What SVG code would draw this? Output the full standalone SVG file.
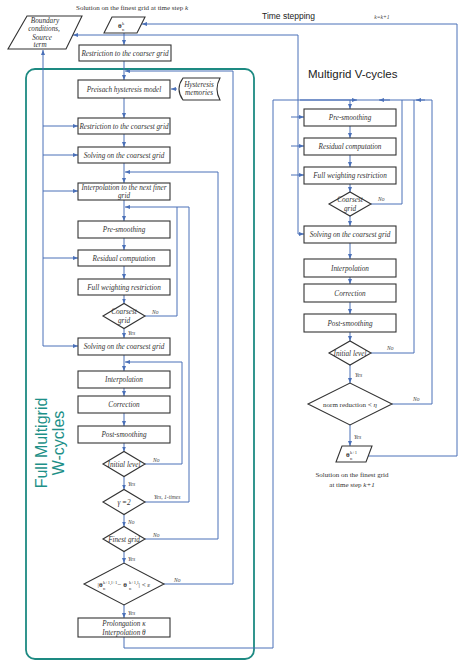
<svg xmlns="http://www.w3.org/2000/svg" width="474" height="667" viewBox="0 0 474 667">
<style>
.b{fill:#fff;stroke:#333;stroke-width:1.1}
.t{font-family:"Liberation Serif",serif;font-style:italic;font-size:7.2px;fill:#333;text-anchor:middle}
.m{font-family:"Liberation Serif",serif;font-size:7px;fill:#333;text-anchor:middle}
.q{font-family:"Liberation Serif",serif;font-size:7px;fill:#333}
.p{font-family:"Liberation Serif",serif;font-size:4.5px;fill:#333}
.c{fill:none;stroke:#4a70b8;stroke-width:1}
.a{marker-end:url(#ah)}
.l{font-family:"Liberation Serif",serif;font-style:italic;font-size:5.6px;fill:#444}
.s{font-family:"Liberation Sans",Arial,sans-serif;fill:#222}
.g{font-family:"Liberation Sans",Arial,sans-serif;font-size:16px;fill:#1d9088;text-anchor:middle}
</style>
<defs>
<marker id="ah" viewBox="0 0 10 10" refX="10" refY="5" markerWidth="5" markerHeight="5" orient="auto" markerUnits="userSpaceOnUse"><path d="M0,1 L10,5 L0,9 z" fill="#4a70b8"/></marker>
</defs>
<rect width="474" height="667" fill="#fff"/>

<!-- frame -->
<rect id="fmg-frame" x="26" y="69" width="228" height="590" rx="9" fill="none" stroke="#1d8a82" stroke-width="1.8"/>
<text class="g" transform="translate(47,443) rotate(-90)">Full Multigrid</text>
<text class="g" transform="translate(64,443) rotate(-90)">W-cycles</text>

<text class="m" x="132" y="10">Solution on the finest grid at time step  <tspan font-style="italic">k</tspan></text>
<text class="s" x="262" y="19" font-size="8.5">Time stepping</text>
<text class="l" x="382" y="19" text-anchor="middle" font-size="5">k=k+1</text>
<text class="s" x="308" y="78" font-size="11.5">Multigrid V-cycles</text>

<g id="connectors">
<!-- time stepping loop -->
<path class="c a" d="M368,456 H457 V24 H142"/>
<!-- boundary line -->
<path class="c a" d="M298,35 H73"/>
<path class="c a" d="M298,35 V234 H304"/>
<path class="c a" d="M291,117 H304"/>
<path class="c a" d="M291,146 H304"/>
<path class="c a" d="M291,175 H304"/>
<!-- left rail -->
<path class="c a" d="M43,346 V50"/>
<path class="c a" d="M43,126 H78"/>
<path class="c a" d="M43,155 H78"/>
<path class="c a" d="M43,191 H78"/>
<path class="c a" d="M43,258 H78"/>
<path class="c a" d="M43,346 H78"/>
<!-- left main flow -->
<path class="c a" d="M124,33 V45"/>
<path class="c a" d="M124,61 V80"/>
<path class="c a" d="M124,98 V118"/>
<path class="c a" d="M124,134 V147"/>
<path class="c a" d="M124,163 V183"/>
<path class="c a" d="M124,200 V221"/>
<path class="c a" d="M124,238 V250"/>
<path class="c a" d="M124,266 V279"/>
<path class="c a" d="M124,295 V303.5"/>
<path class="c a" d="M124,328.5 V338"/>
<path class="c a" d="M124,355 V371"/>
<path class="c a" d="M124,388 V396"/>
<path class="c a" d="M124,413 V426"/>
<path class="c a" d="M124,443 V451.5"/>
<path class="c a" d="M124,476.5 V489.5"/>
<path class="c a" d="M124,514.5 V526.5"/>
<path class="c a" d="M124,551.5 V563"/>
<path class="c a" d="M124,605 V618"/>
<!-- hysteresis -->
<path class="c a" d="M177,89 H171"/>
<!-- left loops -->
<path class="c" d="M145,316 H177 V207"/>
<path class="c a" d="M145,502 H189 V207 H125"/>
<path class="c a" d="M145,464 H182 V362 H125"/>
<path class="c a" d="M145,539 H218 V172 H125"/>
<path class="c a" d="M164,584 H233 V71 H125"/>
<!-- to V-cycles -->
<path class="c" d="M124,637 V648 H273 V100 H432"/>
<path class="c a" d="M350,100 V109"/>
<path class="c a" d="M390,100 H379"/>
<path class="c a" d="M425,100 H416"/>
<path class="c a" d="M300,100 H357"/>
<!-- right flow -->
<path class="c a" d="M350,126 V138"/>
<path class="c a" d="M350,155 V167"/>
<path class="c a" d="M350,184 V192"/>
<path class="c a" d="M350,216 V226"/>
<path class="c a" d="M350,243 V259"/>
<path class="c a" d="M350,277 V284"/>
<path class="c a" d="M350,302 V314"/>
<path class="c a" d="M350,332 V341"/>
<path class="c a" d="M350,365 V383"/>
<path class="c a" d="M350,425 V446"/>
<!-- right loops -->
<path class="c" d="M371,204 H402 V100"/>
<path class="c" d="M371,353 H414 V100"/>
<path class="c" d="M392,404 H432 V100"/>
</g>

<!-- labels -->
<text class="l" x="152" y="314">No</text>
<text class="l" x="128" y="335">Yes</text>
<text class="l" x="153" y="462">No</text>
<text class="l" x="128" y="486">Yes</text>
<text class="l" x="154" y="499">Yes, 1-times</text>
<text class="l" x="128" y="524">No</text>
<text class="l" x="153" y="537">No</text>
<text class="l" x="128" y="561">Yes</text>
<text class="l" x="174" y="582">No</text>
<text class="l" x="128" y="615">Yes</text>
<text class="l" x="378" y="201">No</text>
<text class="l" x="387" y="350">No</text>
<text class="l" x="355" y="377">Yes</text>
<text class="l" x="413" y="401">No</text>
<text class="l" x="354" y="439">Yes</text>

<g id="theta-k"><polygon class="b" points="112,17 145,17 137,33 104,33"/>
<text class="q" x="118" y="28" font-weight="bold">θ</text><text class="p" x="122" y="24.5">k</text><text class="p" x="122" y="30.5">n</text></g>

<g id="boundary"><polygon class="b" points="27,16 82,16 66,49 8,49"/>
<text class="t" x="45" y="23">Boundary</text>
<text class="t" x="44" y="31">conditions,</text>
<text class="t" x="42" y="40">Source</text>
<text class="t" x="40" y="47">term</text></g>

<g id="n1"><rect class="b" x="79" y="45" width="92" height="16"/><text class="t" x="125" y="55.5">Restriction to the coarser grid</text></g>
<g id="n2"><rect class="b" x="78" y="80" width="92" height="18"/><text class="t" x="124" y="91.5">Preisach hysteresis model</text></g>
<g id="hyst"><path class="b" d="M183,78 H220 Q214,89 220,100 H183 Q175,89 183,78 Z"/>
<text class="t" x="199" y="87" font-size="5.5">Hysteresis</text><text class="t" x="199" y="95" font-size="5.5">memories</text></g>
<g id="n3"><rect class="b" x="78" y="118" width="92" height="16"/><text class="t" x="124" y="128.5">Restriction to the coarsest grid</text></g>
<g id="n4"><rect class="b" x="78" y="147" width="92" height="16"/><text class="t" x="124" y="157.5">Solving on the coarsest grid</text></g>
<g id="n5"><rect class="b" x="78" y="183" width="92" height="17"/><text class="t" x="124" y="190">Interpolation to the next finer</text><text class="t" x="124" y="198">grid</text></g>
<g id="n6"><rect class="b" x="78" y="221" width="92" height="17"/><text class="t" x="124" y="232">Pre-smoothing</text></g>
<g id="n7"><rect class="b" x="78" y="250" width="92" height="16"/><text class="t" x="124" y="260.5">Residual computation</text></g>
<g id="n8"><rect class="b" x="78" y="279" width="92" height="16"/><text class="t" x="124" y="289.5">Full weighting restriction</text></g>
<g id="d1"><polygon class="b" points="103,316 124,303.5 145,316 124,328.5"/><text class="t" x="124" y="314">Coarsest</text><text class="t" x="124" y="323">grid</text></g>
<g id="n9"><rect class="b" x="78" y="338" width="92" height="17"/><text class="t" x="124" y="349">Solving on the coarsest grid</text></g>
<g id="n10"><rect class="b" x="78" y="371" width="92" height="17"/><text class="t" x="124" y="382">Interpolation</text></g>
<g id="n11"><rect class="b" x="78" y="396" width="92" height="17"/><text class="t" x="124" y="407">Correction</text></g>
<g id="n12"><rect class="b" x="78" y="426" width="92" height="17"/><text class="t" x="124" y="437">Post-smoothing</text></g>
<g id="d2"><polygon class="b" points="103,464 124,451.5 145,464 124,476.5"/><text class="t" x="124" y="466.5">Initial level</text></g>
<g id="d3"><polygon class="b" points="103,502 124,489.5 145,502 124,514.5"/><text class="t" x="124" y="504.5">γ =2</text></g>
<g id="d4"><polygon class="b" points="103,539 124,526.5 145,539 124,551.5"/><text class="t" x="124" y="541.5">Finest grid</text></g>
<g id="d5"><polygon class="b" points="84,584 124,563 164,584 124,605"/>
<text class="q" x="97.5" y="587">|<tspan font-weight="bold">θ</tspan></text>
<text class="p" x="103" y="584">k+1,l+1</text>
<text class="p" x="103" y="589.5">n</text>
<text class="q" x="117.5" y="587"> − <tspan font-weight="bold">θ</tspan></text>
<text class="p" x="129" y="584">k+1,l</text>
<text class="p" x="129" y="589.5">n</text>
<text class="q" x="138.5" y="587">| &lt; ε</text></g>
<g id="n13"><rect class="b" x="78" y="618" width="92" height="19"/><text class="t" x="124" y="626">Prolongation κ</text><text class="t" x="124" y="634.5">Interpolation θ</text></g>

<!-- right column -->
<g id="r1"><rect class="b" x="304" y="109" width="92" height="17"/><text class="t" x="350" y="120">Pre-smoothing</text></g>
<g id="r2"><rect class="b" x="304" y="138" width="92" height="17"/><text class="t" x="350" y="149">Residual computation</text></g>
<g id="r3"><rect class="b" x="304" y="167" width="92" height="17"/><text class="t" x="350" y="178">Full weighting restriction</text></g>
<g id="rd1"><polygon class="b" points="329,204 350,192 371,204 350,216"/><text class="t" x="350" y="202">Coarsest</text><text class="t" x="350" y="211">grid</text></g>
<g id="r4"><rect class="b" x="304" y="226" width="92" height="17"/><text class="t" x="350" y="237">Solving on the coarsest grid</text></g>
<g id="r5"><rect class="b" x="304" y="259" width="92" height="18"/><text class="t" x="350" y="270.5">Interpolation</text></g>
<g id="r6"><rect class="b" x="304" y="284" width="92" height="18"/><text class="t" x="350" y="295.5">Correction</text></g>
<g id="r7"><rect class="b" x="304" y="314" width="92" height="18"/><text class="t" x="350" y="325.5">Post-smoothing</text></g>
<g id="rd2"><polygon class="b" points="329,353 350,341 371,353 350,365"/><text class="t" x="350" y="355.5">Initial level</text></g>
<g id="rd3"><polygon class="b" points="308,404 350,383 392,404 350,425"/><text class="m" x="350" y="406.5">norm reduction &lt; <tspan font-style="italic">η</tspan></text></g>
<g id="theta-k1"><polygon class="b" points="342,446 372,446 366,462 336,462"/>
<text class="q" x="346" y="457" font-weight="bold">θ</text><text class="p" x="350" y="453.5">k+1</text><text class="p" x="350" y="459.5">n</text></g>
<text class="m" x="352" y="477">Solution on the finest grid</text>
<text class="m" x="352" y="487">at time step  <tspan font-style="italic">k+1</tspan></text>
</svg>
